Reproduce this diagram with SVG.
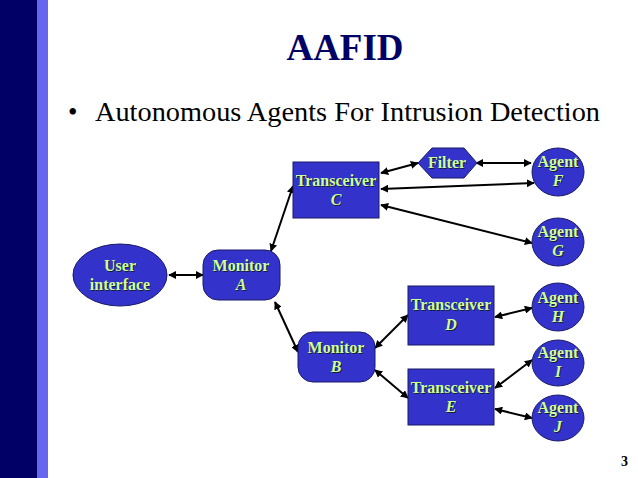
<svg xmlns="http://www.w3.org/2000/svg" width="638" height="478" viewBox="0 0 638 478">
<style>
.node{fill:#3333cc;stroke:#1a1a66;stroke-width:1}
.lbl{font-family:'Liberation Serif','DejaVu Serif',serif;font-weight:bold;font-size:16px;text-anchor:middle;fill:#ccff99}
.sh{fill:#1a1a40}
.it{font-style:italic}
.serif{font-family:'Liberation Serif','DejaVu Serif',serif}
.edge{stroke:#000;stroke-width:2;fill:none;marker-start:url(#ah);marker-end:url(#ah)}
</style>
<defs>
<marker id="ah" viewBox="0 0 10 10" refX="9" refY="5" markerWidth="4" markerHeight="4" orient="auto-start-reverse" markerUnits="strokeWidth">
<path d="M0,0 L10,5 L0,10 z" fill="#000"/>
</marker>
</defs>
<rect width="638" height="478" fill="#fff"/>
<rect x="0" y="0" width="37" height="478" fill="#000066"/>
<rect x="37" y="0" width="11" height="478" fill="#6666ee"/>
<text class="serif" x="345" y="60" font-weight="bold" font-size="37" fill="#000066" text-anchor="middle">AAFID</text>
<text class="serif" x="68" y="121" font-size="27" fill="#000">•</text>
<text class="serif" x="95" y="121" font-size="27" fill="#000" textLength="505" lengthAdjust="spacingAndGlyphs">Autonomous Agents For Intrusion Detection</text>
<text class="serif" x="628" y="466" font-weight="bold" font-size="14" fill="#000" text-anchor="end">3</text>

<g id="connectors">
<line class="edge" x1="169" y1="275" x2="203" y2="275"/>
<line class="edge" x1="271" y1="251" x2="293" y2="186"/>
<line class="edge" x1="275" y1="302" x2="298" y2="352"/>
<line class="edge" x1="381" y1="173" x2="418" y2="163"/>
<line class="edge" x1="476" y1="163" x2="531" y2="163"/>
<line class="edge" x1="381" y1="189" x2="534" y2="183"/>
<line class="edge" x1="381" y1="205" x2="532" y2="243"/>
<line class="edge" x1="375" y1="348" x2="408" y2="315"/>
<line class="edge" x1="375" y1="370" x2="408" y2="398"/>
<line class="edge" x1="495" y1="317" x2="532" y2="308"/>
<line class="edge" x1="495" y1="388" x2="532" y2="360"/>
<line class="edge" x1="495" y1="409" x2="532" y2="418"/>
</g>

<g id="user-interface">
<ellipse class="node" cx="120" cy="275" rx="47" ry="31"/>
<text class="lbl sh" x="121" y="272">User</text><text class="lbl" x="120" y="271">User</text>
<text class="lbl sh" x="121" y="291">interface</text><text class="lbl" x="120" y="290">interface</text>
</g>
<g id="monitor-a">
<rect class="node" x="203" y="250" width="77" height="50" rx="15"/>
<text class="lbl sh" x="242" y="272">Monitor</text><text class="lbl" x="241" y="271">Monitor</text>
<text class="lbl it sh" x="242" y="291">A</text><text class="lbl it" x="241" y="290">A</text>
</g>
<g id="transceiver-c">
<rect class="node" x="293" y="162" width="86" height="56"/>
<text class="lbl sh" x="337" y="187">Transceiver</text><text class="lbl" x="336" y="186">Transceiver</text>
<text class="lbl it sh" x="337" y="206">C</text><text class="lbl it" x="336" y="205">C</text>
</g>
<g id="filter">
<polygon class="node" points="418,163 432,148 464,148 477,163 464,178 432,178"/>
<text class="lbl sh" x="448" y="169">Filter</text><text class="lbl" x="447" y="168">Filter</text>
</g>
<g id="agent-f">
<ellipse class="node" cx="558" cy="172" rx="26" ry="24"/>
<text class="lbl sh" x="559" y="168">Agent</text><text class="lbl" x="558" y="167">Agent</text>
<text class="lbl it sh" x="559" y="187">F</text><text class="lbl it" x="558" y="186">F</text>
</g>
<g id="agent-g">
<ellipse class="node" cx="558" cy="242" rx="26" ry="24"/>
<text class="lbl sh" x="559" y="238">Agent</text><text class="lbl" x="558" y="237">Agent</text>
<text class="lbl it sh" x="559" y="257">G</text><text class="lbl it" x="558" y="256">G</text>
</g>
<g id="monitor-b">
<rect class="node" x="298" y="332" width="77" height="50" rx="15"/>
<text class="lbl sh" x="337" y="354">Monitor</text><text class="lbl" x="336" y="353">Monitor</text>
<text class="lbl it sh" x="337" y="373">B</text><text class="lbl it" x="336" y="372">B</text>
</g>
<g id="transceiver-d">
<rect class="node" x="408" y="286" width="86" height="59"/>
<text class="lbl sh" x="452" y="311">Transceiver</text><text class="lbl" x="451" y="310">Transceiver</text>
<text class="lbl it sh" x="452" y="331">D</text><text class="lbl it" x="451" y="330">D</text>
</g>
<g id="transceiver-e">
<rect class="node" x="408" y="369" width="86" height="56"/>
<text class="lbl sh" x="452" y="394">Transceiver</text><text class="lbl" x="451" y="393">Transceiver</text>
<text class="lbl it sh" x="452" y="413">E</text><text class="lbl it" x="451" y="412">E</text>
</g>
<g id="agent-h">
<ellipse class="node" cx="558" cy="307" rx="26" ry="24"/>
<text class="lbl sh" x="559" y="304">Agent</text><text class="lbl" x="558" y="303">Agent</text>
<text class="lbl it sh" x="559" y="323">H</text><text class="lbl it" x="558" y="322">H</text>
</g>
<g id="agent-i">
<ellipse class="node" cx="558" cy="363" rx="26" ry="23"/>
<text class="lbl sh" x="559" y="359">Agent</text><text class="lbl" x="558" y="358">Agent</text>
<text class="lbl it sh" x="559" y="378">I</text><text class="lbl it" x="558" y="377">I</text>
</g>
<g id="agent-j">
<ellipse class="node" cx="558" cy="418" rx="26" ry="23"/>
<text class="lbl sh" x="559" y="414">Agent</text><text class="lbl" x="558" y="413">Agent</text>
<text class="lbl it sh" x="559" y="433">J</text><text class="lbl it" x="558" y="432">J</text>
</g>
</svg>
